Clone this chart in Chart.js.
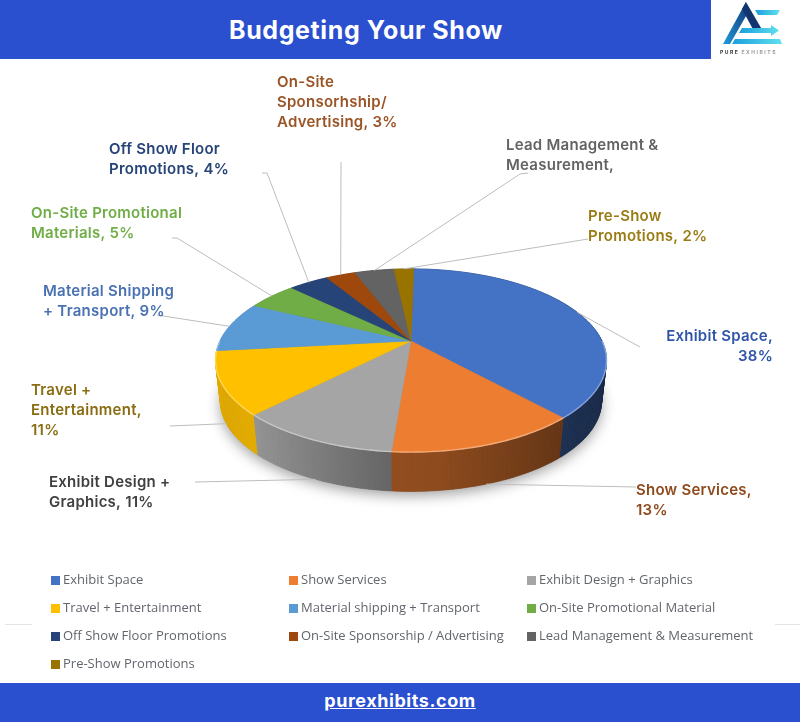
<!DOCTYPE html>
<html>
<head>
<meta charset="utf-8">
<title>Budgeting Your Show</title>
<script src="https://cdn.jsdelivr.net/npm/chart.js@4/dist/chart.umd.min.js"></script>
<style>
    html, body { margin: 0; padding: 0; background: #fff; }
    #page { position: relative; width: 800px; height: 722px; overflow: hidden; }
    #budgetChart { position: absolute; left: 0; top: 0; }
    #banner { position: absolute; left: 0; top: 0; width: 711px; height: 59px; background: #2a4fcf; color: #fff;
        font: 700 25px Inter, sans-serif; line-height: 61px; text-align: center; letter-spacing: 0.6px; text-indent: 21px; }
    #logo { position: absolute; left: 711px; top: 0; }
    #footer { position: absolute; left: 0; top: 683px; width: 800px; height: 39px; background: #2a4fcf; color: #fff;
        font: 700 18px Inter, sans-serif; line-height: 35px; text-align: center; text-decoration: underline; letter-spacing: 0.55px; }
    #legend { position: absolute; left: 0; top: 566px; width: 800px; height: 112px; font: 13px "Open Sans", sans-serif; color: #62666c; }
    .key { position: absolute; white-space: nowrap; line-height: 27px; }
    .key i { position: absolute; left: 0; top: 10px; width: 9px; height: 9px; }
    .key span { position: absolute; left: 12px; top: 0; }
    .rule { position: absolute; top: 624px; height: 1px; background: #e4e4e4; }
</style>
</head>
<body>
<div id="page">
    <canvas id="budgetChart" width="800" height="722"></canvas>
    <div id="banner">Budgeting Your Show</div>
    <svg id="logo" width="89" height="59" viewBox="0 0 89 59">
        <defs>
            <linearGradient id="legA" x1="0" y1="1" x2="1" y2="0">
                <stop offset="0" stop-color="#1f9bd8"/><stop offset="1" stop-color="#123a7c"/>
            </linearGradient>
            <linearGradient id="barA" x1="0" y1="0" x2="1" y2="0">
                <stop offset="0" stop-color="#1c9fdc"/><stop offset="1" stop-color="#5fe0ee"/>
            </linearGradient>
        </defs>
        <path d="M35 2 L12 44 L19 44 L35 16 Z" fill="url(#legA)"/>
        <path d="M35 2 L53 33 L44 33 L31 9 Z" fill="#12356f"/>
        <path d="M44 10 H69 L66 15 H47 Z" fill="url(#barA)"/>
        <path d="M31 28 H60 V25 L68 30.5 L60 36 V33 H28 Z" fill="url(#barA)"/>
        <path d="M24 39 H69 L71 44 H21 Z" fill="url(#barA)"/>
        <text x="9" y="54" font-family="Inter, sans-serif" font-size="5" font-weight="700" letter-spacing="1.55" fill="#333"><tspan>PURE</tspan><tspan fill="#999" dx="2">EXHIBITS</tspan></text>
    </svg>
    <div class="rule" style="left:5px;width:27px"></div>
    <div class="rule" style="left:775px;width:25px"></div>
    <div id="legend"></div>
    <div id="footer">purexhibits.com</div>
</div>
<script>
// Budget share per category, in percent
const categories = ['Exhibit Space', 'Show Services', 'Exhibit Design + Graphics', 'Travel + Entertainment',
    'Material shipping + Transport', 'On-Site Promotional Material', 'Off Show Floor Promotions',
    'On-Site Sponsorship / Advertising', 'Lead Management & Measurement', 'Pre-Show Promotions'];
const shares = [38, 13, 11, 11, 9, 5, 4, 3, 4, 2];
const sliceColors = ['#4472c4', '#ed7d31', '#a5a5a5', '#ffc000', '#5b9bd5', '#70ad47', '#264478', '#9e480e', '#636363', '#997300'];

const calloutText = [
    ['Exhibit Space,', '38%'],
    ['Show Services,', '13%'],
    ['Exhibit Design +', 'Graphics, 11%'],
    ['Travel +', 'Entertainment,', '11%'],
    ['Material Shipping', '+ Transport, 9%'],
    ['On-Site Promotional', 'Materials, 5%'],
    ['Off Show Floor', 'Promotions, 4%'],
    ['On-Site', 'Sponsorhship/', 'Advertising, 3%'],
    ['Lead Management &', 'Measurement,'],
    ['Pre-Show', 'Promotions, 2%']
];
const calloutColors = ['#2f55a8', '#8f4a1c', '#404040', '#8a6d12', '#4a72b2', '#70ad47', '#264478', '#9a5426', '#636363', '#9a7c14'];

// Where each callout sits, and the elbow its leader runs through
const calloutPlaces = [
    { x: 773, y: 336, align: 'right', elbow: [[640, 347]] },
    { x: 636, y: 490, align: 'left', elbow: [[636, 487]], wall: true },
    { x: 49, y: 482, align: 'left', elbow: [[195, 482]], wall: true },
    { x: 31, y: 390, align: 'left', elbow: [[170, 426]], wall: true },
    { x: 43, y: 291, align: 'left', elbow: [[157, 315]] },
    { x: 31, y: 213, align: 'left', elbow: [[177, 238], [172, 238]] },
    { x: 109, y: 149, align: 'left', elbow: [[267, 173], [262, 173]] },
    { x: 277, y: 82, align: 'left', elbow: [[341, 162]] },
    { x: 506, y: 145, align: 'left', elbow: [[520, 174], [528, 173]] },
    { x: 588, y: 216, align: 'left', elbow: [[588, 239]] }
];

// Perspective of the tilted disc
const TILT = 0.458;
const NEAR = 0.2126;
const DEPTH = 41;

function rimPoint(arc, angle, lower) {
    const u = Math.cos(angle), v = -Math.sin(angle);
    const w = 1 / (1 + NEAR * v);
    const px = arc.outerRadius * u * w;
    const py = -arc.outerRadius * TILT * v * w;
    if (lower) return { x: arc.x + px * 0.975, y: arc.y + py * 0.985 + DEPTH };
    return { x: arc.x + px, y: arc.y + py };
}

function shadeFor(u) {
    // wall brightness, from the lit left side to the dark right side
    const stops = [[-1, 0.87], [-0.7, 0.9], [-0.1, 0.62], [0.1, 0.6], [0.75, 0.4], [1, 0.36]];
    for (let i = 1; i < stops.length; i++) {
        if (u <= stops[i][0]) {
            const t = (u - stops[i - 1][0]) / (stops[i][0] - stops[i - 1][0]);
            return stops[i - 1][1] + t * (stops[i][1] - stops[i - 1][1]);
        }
    }
    return 0.36;
}

function tint(hex, f) {
    const n = parseInt(hex.slice(1), 16);
    const c = [n >> 16, (n >> 8) & 255, n & 255].map(function (k) {
        return f <= 1 ? Math.round(k * f) : Math.round(k + (255 - k) * (f - 1));
    });
    return 'rgb(' + c.join(',') + ')';
}

function traceRim(ctx, arc, from, to, lower, move) {
    const steps = Math.max(2, Math.ceil((to - from) / 0.02));
    for (let i = 0; i <= steps; i++) {
        const p = rimPoint(arc, from + (to - from) * i / steps, lower);
        if (i === 0 && move) ctx.moveTo(p.x, p.y); else ctx.lineTo(p.x, p.y);
    }
}

const perspectivePie = {
    id: 'perspectivePie',
    beforeDatasetDraw(chart, args) {
        const ctx = chart.ctx;
        const arcs = args.meta.data;
        const first = arcs[0];
        const full = [first.startAngle, first.startAngle + Math.PI * 2];

        // soft shadow under the base
        ctx.save();
        ctx.shadowColor = 'rgba(0,0,0,0.38)';
        ctx.shadowBlur = 14;
        ctx.shadowOffsetY = 4;
        ctx.fillStyle = '#777';
        ctx.beginPath();
        traceRim(ctx, first, full[0], full[1], true, true);
        ctx.closePath();
        ctx.fill();
        ctx.restore();

        // side wall in narrow strips, far ones first so near ones cover them
        const strips = [];
        arcs.forEach(function (arc, i) {
            const steps = Math.max(2, Math.ceil((arc.endAngle - arc.startAngle) / 0.02));
            for (let s = 0; s < steps; s++) {
                strips.push({
                    arc: arc,
                    color: sliceColors[i],
                    a0: arc.startAngle + (arc.endAngle - arc.startAngle) * s / steps,
                    a1: arc.startAngle + (arc.endAngle - arc.startAngle) * (s + 1) / steps
                });
            }
        });
        strips.sort(function (p, q) {
            return Math.sin((p.a0 + p.a1) / 2) - Math.sin((q.a0 + q.a1) / 2);
        });
        strips.forEach(function (strip) {
            const t0 = rimPoint(strip.arc, strip.a0), t1 = rimPoint(strip.arc, strip.a1);
            const b0 = rimPoint(strip.arc, strip.a0, true), b1 = rimPoint(strip.arc, strip.a1, true);
            const fill = tint(strip.color, shadeFor(Math.cos((strip.a0 + strip.a1) / 2)));
            ctx.fillStyle = fill;
            ctx.strokeStyle = fill;
            ctx.lineWidth = 0.6;
            ctx.beginPath();
            ctx.moveTo(t0.x, t0.y);
            ctx.lineTo(t1.x, t1.y);
            ctx.lineTo(b1.x, b1.y);
            ctx.lineTo(b0.x, b0.y);
            ctx.closePath();
            ctx.fill();
            ctx.stroke();
        });

        // top face
        arcs.forEach(function (arc, i) {
            ctx.fillStyle = sliceColors[i];
            ctx.strokeStyle = sliceColors[i];
            ctx.lineWidth = 0.5;
            ctx.beginPath();
            ctx.moveTo(arc.x, arc.y);
            traceRim(ctx, arc, arc.startAngle, arc.endAngle, false, false);
            ctx.closePath();
            ctx.fill();
            ctx.stroke();
        });

        // lit bevel along the near edge
        arcs.forEach(function (arc, i) {
            const from = Math.max(arc.startAngle, 0);
            const to = Math.min(arc.endAngle, Math.PI);
            if (to <= from) return;
            ctx.strokeStyle = tint(sliceColors[i], 1.35);
            ctx.lineWidth = 1.4;
            ctx.beginPath();
            traceRim(ctx, arc, from, to, false, true);
            ctx.stroke();
        });
        return false;
    },
    afterDatasetsDraw(chart) {
        const ctx = chart.ctx;
        const arcs = chart.getDatasetMeta(0).data;

        // leader lines
        ctx.strokeStyle = '#bdbdbd';
        ctx.lineWidth = 1;
        calloutPlaces.forEach(function (place, i) {
            const arc = arcs[i];
            const start = rimPoint(arc, (arc.startAngle + arc.endAngle) / 2, place.wall);
            ctx.beginPath();
            ctx.moveTo(start.x, start.y);
            place.elbow.forEach(function (p) { ctx.lineTo(p[0], p[1]); });
            ctx.stroke();
        });

        // callout text
        ctx.font = '600 15px Inter, sans-serif';
        ctx.letterSpacing = '0.25px';
        ctx.textBaseline = 'middle';
        calloutText.forEach(function (lines, i) {
            const place = calloutPlaces[i];
            ctx.fillStyle = calloutColors[i];
            ctx.textAlign = place.align;
            lines.forEach(function (line, k) {
                ctx.fillText(line, place.x, place.y + k * 20);
            });
        });
    }
};

new Chart(document.getElementById('budgetChart'), {
    type: 'pie',
    data: {
        labels: categories,
        datasets: [{ data: shares, backgroundColor: sliceColors, borderWidth: 0 }]
    },
    options: {
        responsive: false,
        animation: false,
        rotation: 1,
        // leaves a 382px square centred on the disc apex
        layout: { padding: { left: 220, right: 198, top: 150, bottom: 190 } },
        plugins: { legend: { display: false }, tooltip: { enabled: false } }
    },
    plugins: [perspectivePie]
});

// Legend, three columns filled row by row
const legendBox = document.getElementById('legend');
categories.forEach(function (name, i) {
    const key = document.createElement('div');
    key.className = 'key';
    key.style.left = (51 + (i % 3) * 238) + 'px';
    key.style.top = (Math.floor(i / 3) * 28) + 'px';
    const swatch = document.createElement('i');
    swatch.style.background = sliceColors[i];
    const text = document.createElement('span');
    text.textContent = name;
    key.appendChild(swatch);
    key.appendChild(text);
    legendBox.appendChild(key);
});
</script>
</body>
</html>
